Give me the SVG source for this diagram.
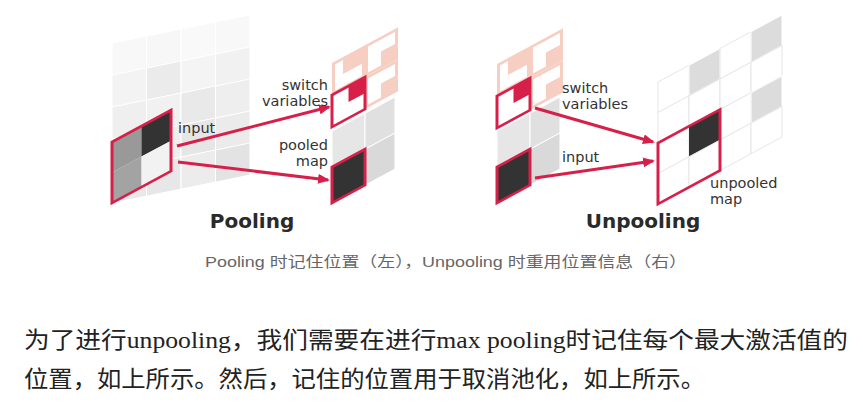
<svg xmlns="http://www.w3.org/2000/svg" width="863" height="408" viewBox="0 0 863 408">
<style>
.c{stroke:#fff;stroke-width:1}
.g{stroke:#e6e6e6;stroke-width:1;fill:#fff}
.r{fill:none;stroke:#d6204a;stroke-width:3}
.pk{fill:#f6cfc2}
.lb{font-family:"DejaVu Sans","Liberation Sans",sans-serif;font-size:14.5px;fill:#333}
.tt{font-family:"DejaVu Sans","Liberation Sans",sans-serif;font-size:20px;font-weight:bold;fill:#2a2a2a;text-anchor:middle}
.cap{font-family:"Liberation Sans","Noto Sans CJK SC",sans-serif;font-size:15px;fill:#666}
.bd{font-family:"Liberation Serif","Noto Sans CJK SC",serif;font-size:23px;fill:#222}
.ar{stroke:#d6204a;stroke-width:3;fill:none}
.bg{stroke:#fff;stroke-width:0.03}
</style>
<defs>
<marker id="ah" markerWidth="12" markerHeight="10" refX="10" refY="5" orient="auto" markerUnits="userSpaceOnUse" viewBox="0 0 12 10"><path d="M0,0 L12,5 L0,10 z" fill="#d6204a"/></marker>
</defs>
<g id="pool-input">
<g transform="matrix(34.5,-7,0,32,112,43)">
<rect x="0" y="0" width="1" height="1" fill="#f8f8f8" class="bg"/>
<rect x="1" y="0" width="1" height="1" fill="#f7f7f7" class="bg"/>
<rect x="2" y="0" width="1" height="1" fill="#f9f9f9" class="bg"/>
<rect x="3" y="0" width="1" height="1" fill="#f8f8f8" class="bg"/>
<rect x="0" y="1" width="1" height="1" fill="#f3f3f3" class="bg"/>
<rect x="1" y="1" width="1" height="1" fill="#ebebeb" class="bg"/>
<rect x="2" y="1" width="1" height="1" fill="#f4f4f4" class="bg"/>
<rect x="3" y="1" width="1" height="1" fill="#f1f1f1" class="bg"/>
<rect x="0" y="2" width="1" height="1" fill="#efefef" class="bg"/>
<rect x="1" y="2" width="1" height="1" fill="#f1f1f1" class="bg"/>
<rect x="2" y="2" width="1" height="1" fill="#e9e9e9" class="bg"/>
<rect x="3" y="2" width="1" height="1" fill="#eeeeee" class="bg"/>
<rect x="0" y="3" width="1" height="1" fill="#ececec" class="bg"/>
<rect x="1" y="3" width="1" height="1" fill="#eeeeee" class="bg"/>
<rect x="2" y="3" width="1" height="1" fill="#e6e6e6" class="bg"/>
<rect x="3" y="3" width="1" height="1" fill="#ebebeb" class="bg"/>
<rect x="0" y="4" width="1" height="1" fill="#e9e9e9" class="bg"/>
<rect x="1" y="4" width="1" height="1" fill="#e7e7e7" class="bg"/>
<rect x="2" y="4" width="1" height="1" fill="#ececec" class="bg"/>
<rect x="3" y="4" width="1" height="1" fill="#e3e3e3" class="bg"/>
</g>
<g transform="matrix(1,-0.54,0,1,112,142)">
<rect x="0" y="0" width="29.5" height="30.5" fill="#999999"/>
<rect x="29.5" y="0" width="29.5" height="30.5" fill="#333333"/>
<rect x="0" y="30.5" width="29.5" height="30.5" fill="#a3a3a3"/>
<rect x="29.5" y="30.5" width="29.5" height="30.5" fill="#f2f2f2"/>
<rect x="0" y="0" width="59" height="61" class="r"/>
</g>
</g>
<g id="pool-switch" transform="matrix(1,-0.54,0,1,332,95)">
<rect x="0" y="-32" width="33" height="32" class="pk"/><path d="M3,-29 h8 v14 h19 v12 h-27 z" fill="#fff"/>
<rect x="33" y="-32" width="33" height="32" class="pk"/><path d="M36,-29 h27 v12 h-14 v14 h-13 z" fill="#fff"/>
<rect x="33" y="0" width="33" height="32" class="pk"/><path d="M36,3 h27 v12 h-14 v14 h-13 z" fill="#fff"/>
<rect x="0" y="0" width="33" height="32" fill="#fff"/>
<rect x="16.5" y="0" width="16.5" height="16" fill="#d6204a"/>
<rect x="0" y="0" width="33" height="32" class="r"/>
</g>
<g id="pool-map" transform="matrix(1,-0.54,0,1,332,167)">
<rect x="0" y="-36" width="33" height="36" fill="#e6e6e6" class="c"/>
<rect x="33" y="-36" width="30" height="36" fill="#e0e0e0" class="c"/>
<rect x="33" y="0" width="30" height="36" fill="#d9d9d9" class="c"/>
<rect x="0" y="0" width="33" height="36" fill="#333"/>
<rect x="0" y="0" width="33" height="36" class="r"/>
</g>
<g id="unpool-switch" transform="matrix(1,-0.54,0,1,497,96)">
<rect x="0" y="-32" width="33" height="32" class="pk"/><path d="M3,-29 h8 v14 h19 v12 h-27 z" fill="#fff"/>
<rect x="33" y="-32" width="33" height="32" class="pk"/><path d="M36,-29 h27 v12 h-14 v14 h-13 z" fill="#fff"/>
<rect x="33" y="0" width="33" height="32" class="pk"/><path d="M36,3 h27 v12 h-14 v14 h-13 z" fill="#fff"/>
<rect x="0" y="0" width="33" height="32" fill="#fff"/>
<rect x="16.5" y="0" width="16.5" height="16" fill="#d6204a"/>
<rect x="0" y="0" width="33" height="32" class="r"/>
</g>
<g id="unpool-input" transform="matrix(1,-0.54,0,1,497,167)">
<rect x="0" y="-36" width="33" height="36" fill="#e6e6e6" class="c"/>
<rect x="33" y="-36" width="30" height="36" fill="#e0e0e0" class="c"/>
<rect x="33" y="0" width="30" height="36" fill="#d9d9d9" class="c"/>
<rect x="0" y="0" width="33" height="36" fill="#333"/>
<rect x="0" y="0" width="33" height="36" class="r"/>
</g>
<g id="unpooled-map" transform="matrix(1,-0.54,0,1,658,143)">
<rect x="0" y="-61" width="31" height="30.5" class="g"/>
<rect x="31" y="-61" width="31" height="30.5" fill="#dcdcdc" class="c"/>
<rect x="62" y="-61" width="31" height="30.5" class="g"/>
<rect x="93" y="-61" width="31" height="30.5" fill="#dcdcdc" class="c"/>
<rect x="0" y="-30.5" width="31" height="30.5" class="g"/>
<rect x="31" y="-30.5" width="31" height="30.5" class="g"/>
<rect x="62" y="-30.5" width="31" height="30.5" class="g"/>
<rect x="93" y="-30.5" width="31" height="30.5" class="g"/>
<rect x="62" y="0" width="31" height="30.5" class="g"/>
<rect x="93" y="0" width="31" height="30.5" fill="#dcdcdc" class="c"/>
<rect x="62" y="30.5" width="31" height="30.5" class="g"/>
<rect x="93" y="30.5" width="31" height="30.5" class="g"/>
<rect x="0" y="0" width="31" height="30.5" class="g"/>
<rect x="31" y="0" width="31" height="30.5" fill="#333"/>
<rect x="0" y="30.5" width="31" height="30.5" class="g"/>
<rect x="31" y="30.5" width="31" height="30.5" class="g"/>
<rect x="0" y="0" width="62" height="61" class="r"/>
</g>
<g id="connectors">
<line x1="177" y1="146" x2="329" y2="107" class="ar" marker-end="url(#ah)"/>
<line x1="178" y1="162" x2="328" y2="180" class="ar" marker-end="url(#ah)"/>
<line x1="535" y1="108" x2="653" y2="142" class="ar" marker-end="url(#ah)"/>
<line x1="535" y1="178" x2="653" y2="161" class="ar" marker-end="url(#ah)"/>
</g>
<g id="labels">
<text x="178" y="133" class="lb">input</text>
<text x="328" y="90" class="lb" text-anchor="end">switch</text>
<text x="328" y="106" class="lb" text-anchor="end">variables</text>
<text x="328" y="150" class="lb" text-anchor="end">pooled</text>
<text x="328" y="166" class="lb" text-anchor="end">map</text>
<text x="252" y="228" class="tt">Pooling</text>
<text x="562" y="93" class="lb">switch</text>
<text x="562" y="109" class="lb">variables</text>
<text x="562" y="162" class="lb">input</text>
<text x="710" y="188" class="lb">unpooled</text>
<text x="710" y="204" class="lb">map</text>
<text x="643" y="228" class="tt">Unpooling</text>
</g>
<text x="205" y="267" class="cap" textLength="482" lengthAdjust="spacingAndGlyphs">Pooling 时记住位置（左），Unpooling 时重用位置信息（右）</text>
<text x="24" y="348" class="bd" textLength="824" lengthAdjust="spacingAndGlyphs">为了进行unpooling，我们需要在进行max pooling时记住每个最大激活值的</text>
<text x="24" y="387" class="bd" textLength="681" lengthAdjust="spacingAndGlyphs">位置，如上所示。然后，记住的位置用于取消池化，如上所示。</text>
</svg>
